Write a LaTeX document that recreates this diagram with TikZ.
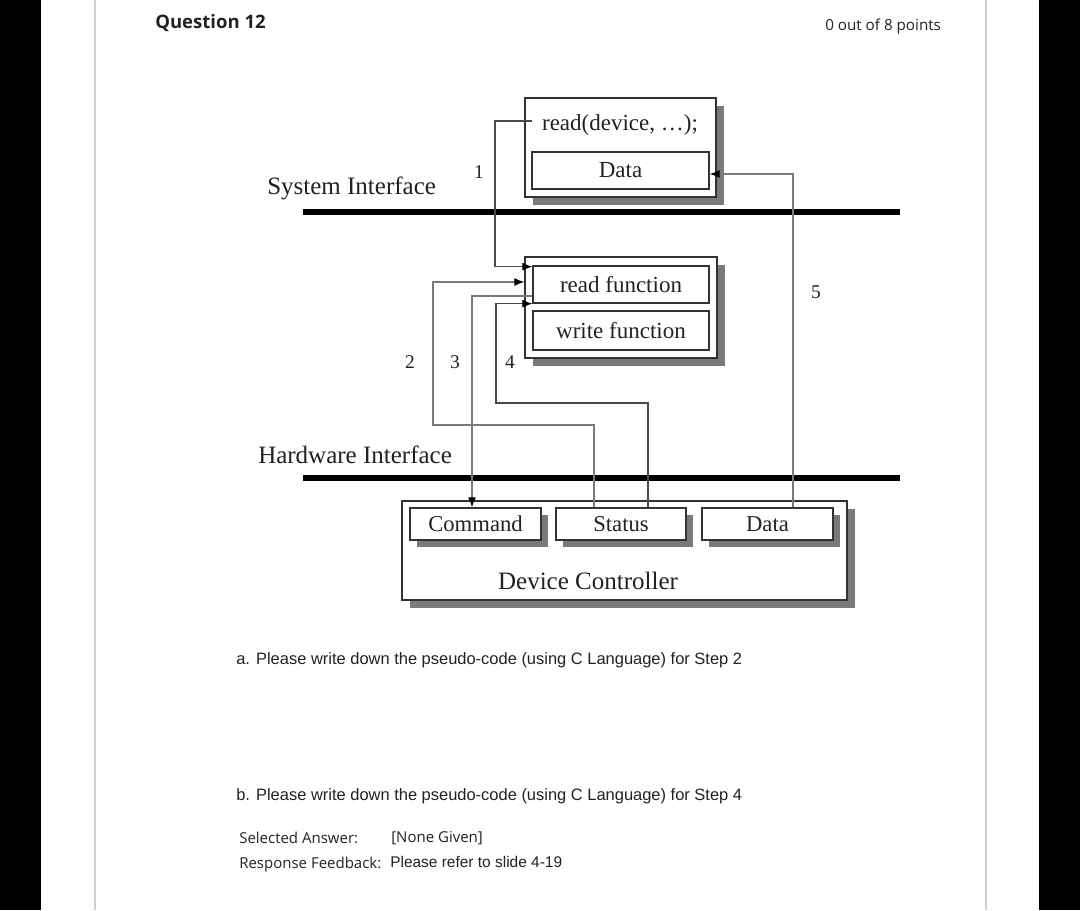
\documentclass[tikz,border=0pt]{standalone}
\usepackage{fontspec}
\setmainfont{Liberation Serif}
\newfontfamily\osans{Open Sans}
\newfontfamily\arialf{Liberation Sans}
\usetikzlibrary{arrows.meta,shadows}
\definecolor{ink}{HTML}{222222}
\definecolor{edge}{HTML}{333333}
\definecolor{shad}{HTML}{7A7A7A}
\definecolor{wire}{HTML}{4A4A4A}
\definecolor{wirel}{HTML}{7A7A7A}
\definecolor{pageline}{HTML}{D0D0D0}
\tikzset{
  x=0.75pt, y=-0.75pt,
  boxbig/.style={draw=edge, fill=white, line width=1pt, inner sep=0pt,
     drop shadow={shadow xshift=6pt, shadow yshift=-6pt, fill=shad, opacity=1}},
  boxsm/.style={draw=edge, fill=white, line width=1pt, inner sep=0pt,
     drop shadow={shadow xshift=5pt, shadow yshift=-5pt, fill=shad, opacity=1},
     font=\fontsize{17}{20}\selectfont, text=ink},
  boxin/.style={draw=edge, fill=white, line width=1pt, inner sep=0pt,
     font=\fontsize{17.25}{20}\selectfont, text=ink},
  lbl/.style={font=\fontsize{18.75}{22}\selectfont, text=ink, inner sep=0pt},
  num/.style={font=\fontsize{14.6}{17}\selectfont, text=ink, inner sep=0pt},
  conn/.style={draw=wire, line width=0.8pt},
  connl/.style={draw=wirel, line width=0.8pt},
  arr/.style={-{Latex[length=7.5pt,width=6pt,color=black]}},
  bar/.style={line width=4.8pt, draw=black},
  web/.style={text=ink, inner sep=0pt, anchor=west},
}
\begin{document}
\begin{tikzpicture}
\useasboundingbox (0,0) rectangle (1080,910);
\fill[white] (0,0) rectangle (1080,910);
\fill[black] (0,0) rectangle (41,910);
\fill[black] (1039,0) rectangle (1080,910);
\draw[pageline, line width=1.1pt] (95,0) -- (95,910);
\draw[pageline, line width=1.1pt] (986,0) -- (986,910);

% header
\node[web, font=\osans\bfseries\fontsize{13.9}{16}\selectfont] (qtitle) at (155,23) {Question 12};
\node[web, font=\osans\fontsize{11.4}{14}\selectfont] (qpts) at (825,27) {0 out of 8 points};

% interface bars
\coordinate (sysL) at (303,212);
\coordinate (sysR) at (900,212);
\coordinate (hwL) at (303,478);
\coordinate (hwR) at (900,478);
\draw[bar] (sysL) -- (sysR);
\draw[bar] (hwL) -- (hwR);
\node[lbl, anchor=west] (syslbl) at (267,188) {System Interface};
\node[lbl, anchor=west] (hwlbl) at (258,455) {Hardware Interface};

% top box
\node[boxbig, minimum width=143.25pt, minimum height=74.25pt] (readcall) at (620.5,147.5) {};
\node[boxin, minimum width=132.75pt, minimum height=27.75pt] (dtop) at (620.5,170.5) {Data};
\node[font=\fontsize{17.25}{20}\selectfont, text=ink, inner sep=0pt] (readtxt) at (620,125) {read(device, \dots);};

% function box
\node[boxbig, minimum width=144pt, minimum height=75.75pt] (funcs) at (621,307.5) {};
\node[boxin, minimum width=132pt, minimum height=27.75pt] (readfn) at (621,284.5) {read function};
\node[boxin, minimum width=132pt, minimum height=29.25pt] (writefn) at (621,330.5) {write function};

% controller
\node[boxbig, minimum width=333.75pt, minimum height=74.25pt] (ctrl) at (624.5,550.5) {};
\node[boxsm, minimum width=98.25pt, minimum height=24pt] (cmd) at (475.5,524) {Command};
\node[boxsm, minimum width=97.5pt, minimum height=24pt] (status) at (621,524) {Status};
\node[boxsm, minimum width=98.25pt, minimum height=24pt] (dctrl) at (767.5,524) {Data};
\node[lbl] (ctrllbl) at (588,581) {Device Controller};

% connectors
\coordinate (p1) at (532,121);
\draw[conn, arr] (p1) -- (495,121) |- ([yshift=-1pt]readfn.north west);
\draw[connl, arr] (594,0 |- status.north) |- (433,425) |- (funcs.west |- 0,282);
\draw[connl, arr] (readfn.west |- 0,296) -| (472,0 |- cmd.north);
\draw[conn, arr] (648,0 |- status.north) |- (496,403) |- (readfn.south west);
\draw[connl, arr] (793,0 |- dctrl.north) |- (dtop.east |- 0,174);

% step numbers
\node[num] (n1) at (479,172) {1};
\node[num] (n2) at (410,362) {2};
\node[num] (n3) at (455,362) {3};
\node[num] (n4) at (510,362) {4};
\node[num] (n5) at (816,292) {5};

% question text
\node[web, font=\arialf\fontsize{12.35}{15}\selectfont] (qa) at (236,660) {a. Please write down the pseudo-code (using C Language) for Step 2};
\node[web, font=\arialf\fontsize{12.35}{15}\selectfont] (qb) at (236,796) {b. Please write down the pseudo-code (using C Language) for Step 4};
\node[web, font=\osans\fontsize{11.25}{14}\selectfont] (sa) at (239,838) {Selected Answer:};
\node[web, font=\osans\fontsize{11.25}{14}\selectfont] (sav) at (391,838) {[None Given]};
\node[web, font=\osans\fontsize{11.25}{14}\selectfont] (rf) at (239,865) {Response Feedback:};
\node[web, font=\arialf\fontsize{11.6}{14}\selectfont] (rfv) at (390,862) {Please refer to slide 4-19};
\end{tikzpicture}
\end{document}
